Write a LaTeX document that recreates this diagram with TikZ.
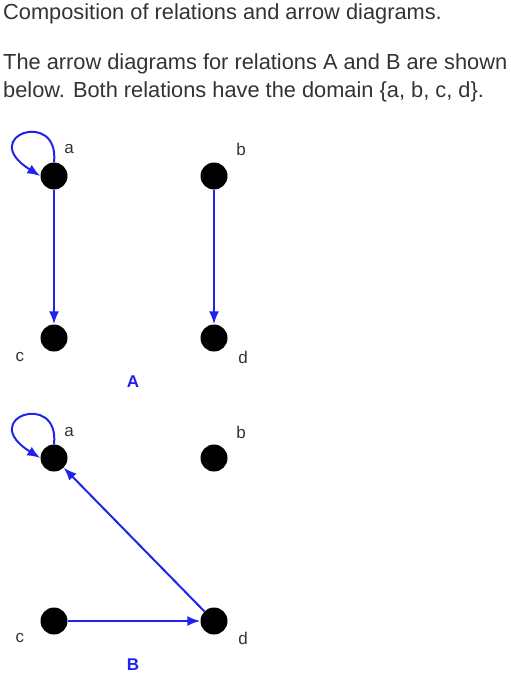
\documentclass[tikz,border=0pt]{standalone}
\usepackage{fontspec}
\setmainfont{Liberation Sans}
\usetikzlibrary{arrows.meta}
\definecolor{txtgray}{HTML}{333333}
\definecolor{arcblue}{HTML}{2222EE}
\begin{document}
\begin{tikzpicture}[x=1pt,y=-1pt,
  every node/.style={inner sep=0pt,text=txtgray},
  textline/.style={anchor=base west,font=\fontsize{21.8}{26}\selectfont},
  vertex/.style={circle,fill=black,minimum size=27pt},
  vlabel/.style={font=\fontsize{17}{20}\selectfont},
  rellabel/.style={font=\bfseries\fontsize{17}{20}\selectfont,text=arcblue},
  arc/.style={draw=arcblue,line width=2pt,-{Latex[length=13pt,width=10pt]}}]
 \useasboundingbox (0,0) rectangle (511,677);

 % title and text
 \node[textline] (title) at (3,20) {Composition of relations and arrow diagrams.};
 \node[textline] (line1) at (3,70) {The arrow diagrams for relations A and B are shown};
 \node[textline] (line2) at (3,97) {below. Both relations have the domain \{a, b, c, d\}.};

 % relation A
 \node[vertex] (Aa) at (54,176) {};
 \node[vertex] (Ab) at (214,176) {};
 \node[vertex] (Ac) at (54,338) {};
 \node[vertex] (Ad) at (214,338) {};
 \node[vlabel] (lAa) at (69,149) {a};
 \node[vlabel] (lAb) at (241,149) {b};
 \node[vlabel] (lAc) at (20,357) {c};
 \node[vlabel] (lAd) at (243,357) {d};
 \node[rellabel] (nameA) at (133,382) {A};

 \draw[arc] (Aa.north) .. controls (60,108) and (-24,136) .. (Aa.west);
 \draw[arc] (Aa.south) -- (Ac.north);
 \draw[arc] (Ab.south) -- (Ad.north);

 % relation B
 \node[vertex] (Ba) at (54,458) {};
 \node[vertex] (Bb) at (214,458) {};
 \node[vertex] (Bc) at (54,621) {};
 \node[vertex] (Bd) at (214,621) {};
 \node[vlabel] (lBa) at (69,432) {a};
 \node[vlabel] (lBb) at (241,432) {b};
 \node[vlabel] (lBc) at (20,638) {c};
 \node[vlabel] (lBd) at (243,638) {d};
 \node[rellabel] (nameB) at (133,665) {B};

 \draw[arc] (Ba.north) .. controls (60,390) and (-24,418) .. (Ba.west);
 \draw[arc] (Bd.north west) -- (Ba.south east);
 \draw[arc] (Bc.east) -- (Bd.west);

\end{tikzpicture}
\end{document}
